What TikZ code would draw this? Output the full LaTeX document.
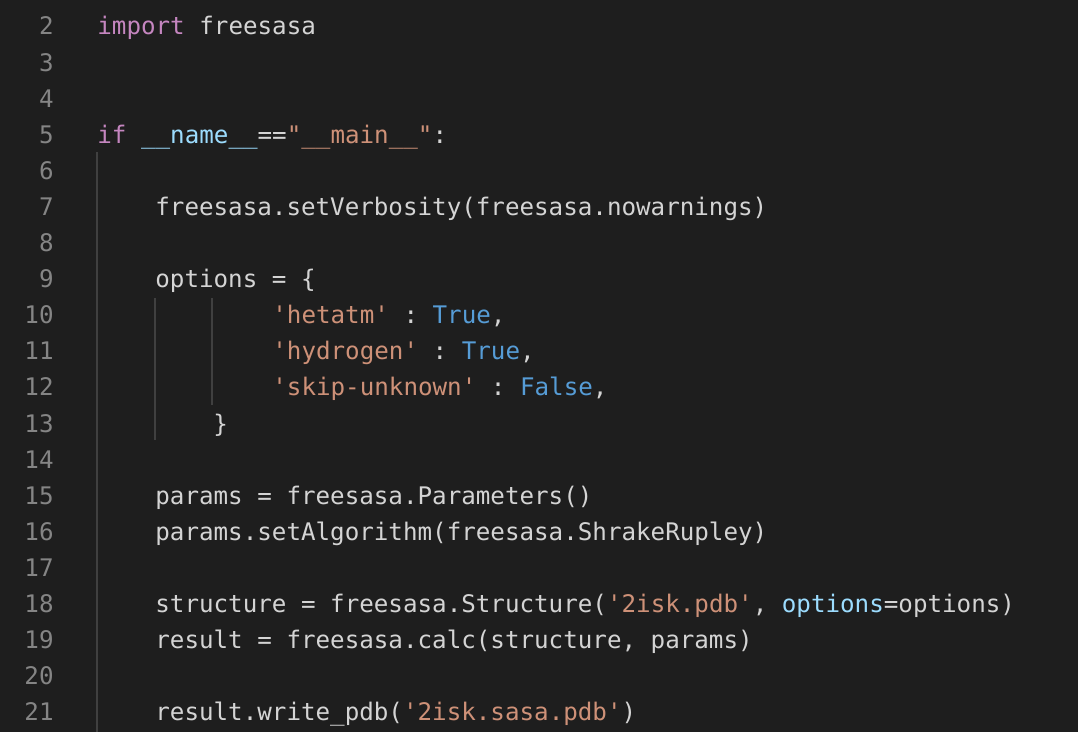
\documentclass[tikz,border=0pt]{standalone}
\usepackage{fontspec}
\setmonofont{DejaVu Sans Mono}
\definecolor{bgdark}{HTML}{1E1E1E}
\definecolor{plain}{HTML}{D4D4D4}
\definecolor{lineno}{HTML}{858585}
\definecolor{kwpurple}{HTML}{C586C0}
\definecolor{strorange}{HTML}{CE9178}
\definecolor{constblue}{HTML}{569CD6}
\definecolor{varblue}{HTML}{9CDCFE}
\definecolor{guide}{HTML}{404040}
\newcommand{\kw}[1]{\textcolor{kwpurple}{#1}}
\newcommand{\str}[1]{\textcolor{strorange}{#1}}
\newcommand{\cst}[1]{\textcolor{constblue}{#1}}
\newcommand{\var}[1]{\textcolor{varblue}{#1}}
\tikzset{
    codeline/.style={anchor=base west, inner sep=0pt, text=plain,
           font=\ttfamily\fontsize{12.1}{14}\selectfont},
    numline/.style={anchor=base east, inner sep=0pt, text=lineno,
           font=\ttfamily\fontsize{12.1}{14}\selectfont},
    indentguide/.style={draw=guide, line width=0.6pt},
}
\begin{document}
\begin{tikzpicture}[x=0.5pt, y=-0.5pt]
  \fill[bgdark] (0,0) rectangle (1078,732);
  \useasboundingbox (0,0) rectangle (1078,732);
  % indent guides
  \draw[indentguide] (97,152) -- (97,732);
  \draw[indentguide] (155,298) -- (155,440);
  \draw[indentguide] (212,298) -- (212,405);
  % line numbers
  \foreach \n in {2,...,21}
    \node[numline] (n\n) at (54,{35+36.1*(\n-2)}) {\n};
  % code
  \node[codeline] (l2)  at (97,35)          {\kw{import} freesasa};
  \node[codeline] (l5)  at (97,{35+36.1*3}) {\kw{if} \var{\_\_name\_\_}==\str{"\_\_main\_\_"}:};
  \node[codeline] (l7)  at (155,{35+36.1*5})  {freesasa.setVerbosity(freesasa.nowarnings)};
  \node[codeline] (l9)  at (155,{35+36.1*7})  {options = \{};
  \node[codeline] (l10) at (272,{35+36.1*8})  {\str{'hetatm'} : \cst{True},};
  \node[codeline] (l11) at (272,{35+36.1*9})  {\str{'hydrogen'} : \cst{True},};
  \node[codeline] (l12) at (272,{35+36.1*10}) {\str{'skip-unknown'} : \cst{False},};
  \node[codeline] (l13) at (213,{35+36.1*11}) {\}};
  \node[codeline] (l15) at (155,{35+36.1*13}) {params = freesasa.Parameters()};
  \node[codeline] (l16) at (155,{35+36.1*14}) {params.setAlgorithm(freesasa.ShrakeRupley)};
  \node[codeline] (l18) at (155,{35+36.1*16}) {structure = freesasa.Structure(\str{'2isk.pdb'}, \var{options}=options)};
  \node[codeline] (l19) at (155,{35+36.1*17}) {result = freesasa.calc(structure, params)};
  \node[codeline] (l21) at (155,{35+36.1*19}) {result.write\_pdb(\str{'2isk.sasa.pdb'})};
\end{tikzpicture}
\end{document}
